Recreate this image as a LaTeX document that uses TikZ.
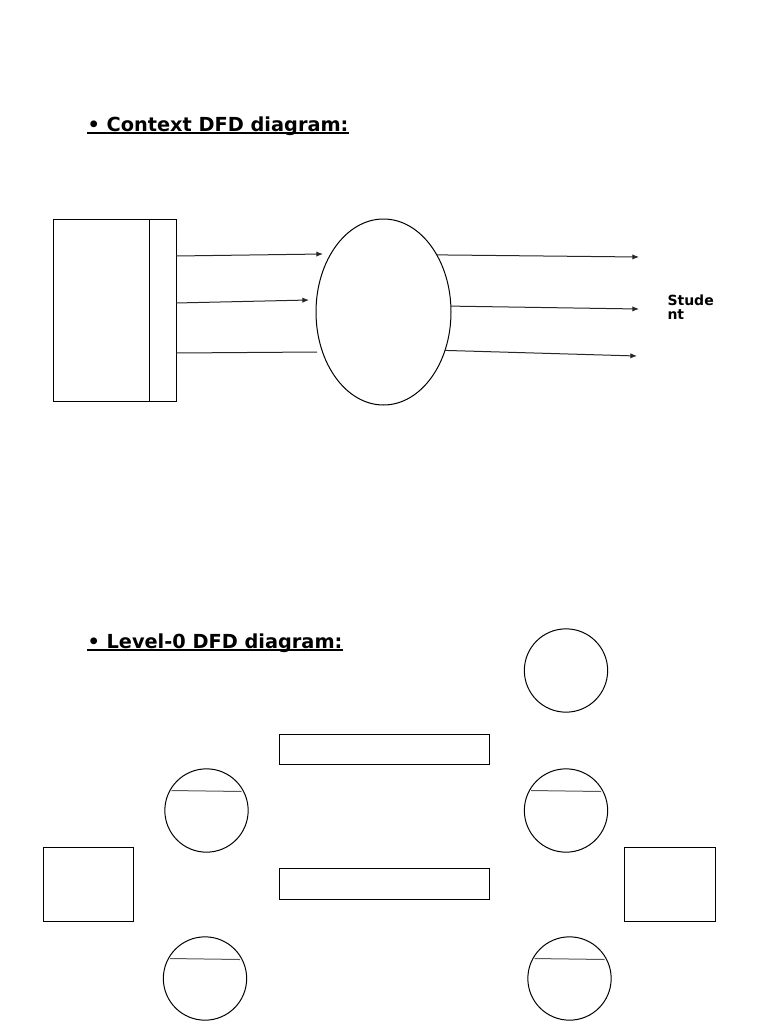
\documentclass[tikz,border=0pt]{standalone}
\usepackage{fontspec}
\setmainfont{DejaVu Sans}
\usetikzlibrary{shapes.geometric,arrows.meta,calc}
\tikzset{every picture/.style={line width=0.75pt}}

\begin{document}
\begin{tikzpicture}[x=0.75pt,y=0.75pt,yscale=-1,xscale=1,
  heading/.style={anchor=base west,inner sep=0pt,font=\bfseries\fontsize{14.5}{17}\selectfont},
  box/.style={draw,rectangle,inner sep=0pt,outer sep=0pt},
  bubble/.style={draw,circle,inner sep=0pt,outer sep=0pt,minimum size=62.5pt},
  flow/.style={-{Latex[length=5pt,width=4pt]},draw=black!85},
  lid/.style={draw=black!65}]
\path[use as bounding box] (0,0) rectangle (768,1024);

%Text Node: heading 1
\node[heading] (ctx) at (87,131) {• Context DFD diagram:};
\draw[line width=1.3pt] ($(ctx.base west)+(0,2)$) -- ($(ctx.base east)+(0,2)$);

%Shape: Rectangle [external entity]
\node[box,minimum width=92.25pt,minimum height=136.5pt] (src) at (114.5,310) {};
\draw (src.north east) ++(-27,0) -- ++(0,182);
%Shape: Ellipse [process]
\node[draw,ellipse,inner sep=0pt,outer sep=0pt,minimum width=101.25pt,minimum height=139.5pt] (proc) at (383.5,312) {};

%free ends
\coordinate (a1) at (323,254);
\coordinate (a2) at (309,300);
\coordinate (a3) at (317,352);
\coordinate (b1) at (639,257);
\coordinate (b2) at (639,309);
\coordinate (b3) at (637,356);

%Straight Lines
\draw[flow] (src.north east) ++(0,37) -- (a1);
\draw[flow] (src.north east) ++(0,84) -- (a2);
\draw[draw=black!85] (src.north east) ++(0,134) -- (a3);
\draw[flow] (proc.47) -- (b1);
\draw[flow] (proc.5) -- (b2);
\draw[flow] (proc.-32) -- (b3);

% Text Node
\node[anchor=base west,inner sep=0pt,align=left,font=\bfseries\fontsize{10.5}{10.5}\selectfont] (stu) at (667,319) {Stude\\nt};

%Text Node: heading 2
\node[heading] (lvl) at (87,648) {• Level-0 DFD diagram:};
\draw[line width=1.3pt] ($(lvl.base west)+(0,2)$) -- ($(lvl.base east)+(0,2)$);

%Shape: Circles [processes]
\node[bubble] (c0) at (566,670.5) {};
\node[bubble] (c1) at (206.5,810.5) {};
\node[bubble] (c2) at (566,810.5) {};
\node[bubble] (c3) at (205,978.5) {};
\node[bubble] (c4) at (569.5,978.5) {};
\foreach \c in {c1,c2,c3,c4}
  \draw[lid] ($(\c.center)+(-35,-20)$) -- ($(\c.center)+(35,-19)$);

%Shape: Rectangles [data stores]
\node[box,minimum width=157.5pt,minimum height=22.5pt] (st1) at (384,749) {};
\node[box,minimum width=157.5pt,minimum height=23.25pt] (st2) at (384,883.5) {};

%Shape: Rectangles [external entities]
\node[box,minimum width=67.5pt,minimum height=55.5pt] (ent1) at (88,884) {};
\node[box,minimum width=68.25pt,minimum height=55.5pt] (ent2) at (669.5,884) {};

\end{tikzpicture}
\end{document}
